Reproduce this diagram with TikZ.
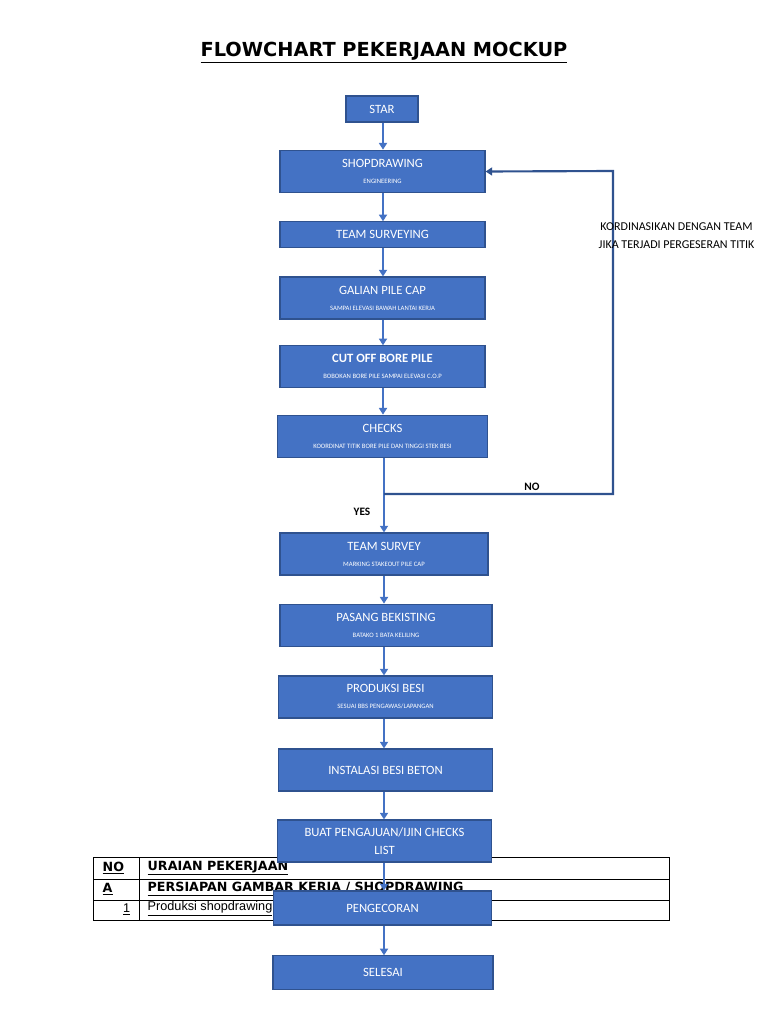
\documentclass[tikz,border=0pt]{standalone}
\usepackage{fontspec}
\setmainfont{Carlito}
\newfontfamily\verd{DejaVu Sans}
\newfontfamily\arl{Liberation Sans}
\usetikzlibrary{arrows.meta}
\definecolor{boxblue}{HTML}{4472C4}
\definecolor{boxline}{HTML}{2F528F}
\newcommand{\subtxt}{\fontsize{5}{6}\selectfont}
\begin{document}
\begin{tikzpicture}[x=0.75pt, y=-0.75pt,
    stepbox/.style={draw=boxline, fill=boxblue, text=white, line width=0.8pt, inner sep=0pt, align=center, font=\fontsize{9.5}{11}\selectfont},
    flow/.style={draw=boxblue, line width=1.6pt, -{Triangle[length=5pt,width=6pt]}}]
    \useasboundingbox (0,0) rectangle (768,1024);

    % title
    \node[font=\verd\bfseries\fontsize{14.5}{17}\selectfont] (title) at (384,53) {\underline{FLOWCHART PEKERJAAN MOCKUP}};

    % table behind the chart
    \draw[line width=0.6pt] (93,857) rectangle (669,920);
    \draw[line width=0.6pt] (93,879) -- (669,879) (93,900) -- (669,900) (139,857) -- (139,920);
    \node[anchor=west, font=\verd\bfseries\fontsize{9.5}{11}\selectfont] (no) at (98,868) {\underline{NO}};
    \node[anchor=west, font=\verd\bfseries\fontsize{9.5}{11}\selectfont] (ur) at (143,868) {\underline{URAIAN PEKERJAAN}};
    \node[anchor=west, font=\verd\bfseries\fontsize{9.5}{11}\selectfont] (a) at (98,889) {\underline{A}};
    \node[anchor=west, font=\verd\bfseries\fontsize{9.5}{11}\selectfont] (pg) at (143,889) {\underline{PERSIAPAN GAMBAR KERJA / SHOPDRAWING}};
    \node[anchor=east, font=\arl\fontsize{9.5}{11}\selectfont] (n1) at (135,909) {\underline{1}};
    \node[anchor=west, font=\arl\fontsize{9.5}{11}\selectfont] (ps) at (143,909) {\underline{Produksi shopdrawing}};

    % steps
    \node[stepbox, minimum width=54pt, minimum height=19.5pt] (star) at (382,109) {STAR};
    \node[stepbox, minimum width=153.75pt, minimum height=32pt] (shop) at (382.5,171.5) {SHOPDRAWING\\[1pt]{\subtxt ENGINEERING}};
    \node[stepbox, minimum width=153.75pt, minimum height=19pt] (tsurv) at (382.5,234.5) {TEAM SURVEYING};
    \node[stepbox, minimum width=153.75pt, minimum height=31.5pt] (galian) at (382.5,298) {GALIAN PILE CAP\\[1pt]{\subtxt SAMPAI ELEVASI BAWAH LANTAI KERJA}};
    \node[stepbox, minimum width=153.75pt, minimum height=31pt] (cutoff) at (382.5,366.5) {\textbf{CUT OFF BORE PILE}\\[1pt]{\subtxt BOBOKAN BORE PILE SAMPAI ELEVASI C.O.P}};
    \node[stepbox, minimum width=158pt, minimum height=32pt] (checks) at (382.5,436.5) {CHECKS\\[1pt]{\subtxt KOORDINAT TITIK BORE PILE DAN TINGGI STEK BESI}};
    \node[stepbox, minimum width=156pt, minimum height=31.5pt] (tsurvey) at (384,554) {TEAM SURVEY\\[1pt]{\subtxt MARKING STAKEOUT PILE CAP}};
    \node[stepbox, minimum width=159pt, minimum height=32pt] (bekist) at (386,625.5) {PASANG BEKISTING\\[1pt]{\subtxt BATAKO 1 BATA KELILING}};
    \node[stepbox, minimum width=160pt, minimum height=31.5pt] (besi) at (385.5,697) {PRODUKSI BESI\\[1pt]{\subtxt SESUAI BBS PENGAWAS/LAPANGAN}};
    \node[stepbox, minimum width=160pt, minimum height=31.5pt] (instal) at (385.5,770) {INSTALASI BESI BETON};
    \node[stepbox, minimum width=161pt, minimum height=31.5pt] (ijin) at (384.5,841) {BUAT PENGAJUAN/IJIN CHECKS\\[2pt]LIST};
    \node[stepbox, minimum width=164pt, minimum height=25.5pt] (cor) at (382.5,908) {PENGECORAN};
    \node[stepbox, minimum width=165pt, minimum height=25pt] (selesai) at (383,972.5) {SELESAI};

    % connectors
    \coordinate (split) at (384,494);
    \coordinate (corner) at (613,494);
    \coordinate (top) at (613,171);
    \draw[flow] (star.south -| 383,0) -- (shop.north -| 383,0);
    \draw[flow] (shop.south -| 383,0) -- (tsurv.north -| 383,0);
    \draw[flow] (tsurv.south -| 383,0) -- (galian.north -| 383,0);
    \draw[flow] (galian.south -| 383,0) -- (cutoff.north -| 383,0);
    \draw[flow] (cutoff.south -| 383,0) -- (checks.north -| 383,0);
    \draw[flow] (checks.south -| 384,0) -- (tsurvey.north -| 384,0);
    \draw[flow] (tsurvey.south -| 384,0) -- (bekist.north -| 384,0);
    \draw[flow] (bekist.south -| 384,0) -- (besi.north -| 384,0);
    \draw[flow] (besi.south -| 384,0) -- (instal.north -| 384,0);
    \draw[flow] (instal.south -| 384,0) -- (ijin.north -| 384,0);
    \draw[flow] (ijin.south -| 384,0) -- (cor.north -| 384,0);
    \draw[flow] (cor.south -| 384,0) -- (selesai.north -| 384,0);
    \draw[draw=boxline, line width=1.6pt, -{Triangle[length=5pt,width=6pt]}] (split) -- (corner) -- (top) -- (shop.east);

    \node[font=\bfseries\fontsize{8.5}{10}\selectfont] (nolbl) at (532,487) {NO};
    \node[font=\bfseries\fontsize{8.5}{10}\selectfont] (yes) at (362,512) {YES};
    \node[anchor=west, align=center, font=\fontsize{9}{13.5}\selectfont] (note) at (594,236) {KORDINASIKAN DENGAN TEAM\\JIKA TERJADI PERGESERAN TITIK};
\end{tikzpicture}
\end{document}
